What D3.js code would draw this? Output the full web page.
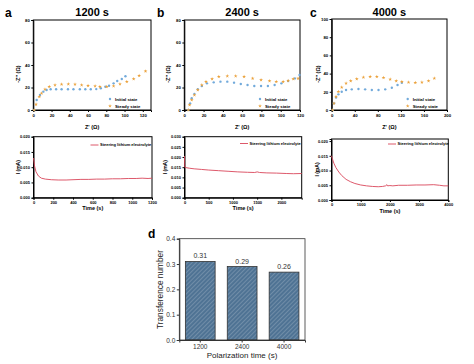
<!DOCTYPE html>
<html><head><meta charset="utf-8">
<script src="https://cdn.jsdelivr.net/npm/d3@7"></script>
<style>body{margin:0;background:#fff}svg{display:block}text{font-family:"Liberation Sans",Arial,sans-serif}</style>
</head><body><svg id="chart" width="474" height="364"></svg>
<script>
// ---------- DATA ----------
const panelTitles = ["1200 s", "2400 s", "4000 s"];
const legendNyquist = ["Initial state", "Steady state"];
const legendCurrent = "Steering lithium electrolyte";

// Nyquist: [Z', -Z'']
const nyqInitialA = [[1,0],[3.7,8.9],[7.3,13.3],[11,16.3],[14.6,17.8],[19,18.4],[25,18.4],[31,18.4],[38,18.4],[44,18.4],[51,18.4],[57,18.4],[63,18.4],[69,18.6],[74,19.3],[79,20.7],[83,21.6],[88,23.7],[92,25.8],[97,27.6],[101,30]];
const nyqSteadyA = [[1,0],[3,5],[6.6,11.9],[9,14.8],[12.8,18.4],[17.5,20.7],[23.8,22.2],[31,22.8],[38.4,23.1],[45.7,22.8],[53,22.2],[60,21.6],[67.7,21.3],[73,20.7],[80.5,20.7],[88,21.3],[95,23.1],[102.5,25.2],[110,27.6],[116,30.5],[123,34.5]];
const nyqInitialB = [[4.2,0],[6,5.9],[7.7,10.4],[10.5,14.2],[14,18.4],[18.2,21.3],[23.5,23.7],[30.5,24.6],[37.5,25.2],[44.6,25.2],[51.6,24.3],[58.6,23.1],[65.6,22.2],[72.6,21.3],[79.6,21.3],[86.7,21.3],[93.7,22.2],[100.7,23.7],[107.7,25.8],[114.7,28.1],[119.5,31.1]];
const nyqSteadyB = [[4.2,0],[5.5,4.5],[7.7,8.9],[10.5,13.3],[14,17.8],[18.2,22.2],[22.5,25.2],[28.8,27.6],[35.8,29.6],[44.6,30.2],[53.3,30.2],[62,29.6],[70.9,28.1],[79.6,26.7],[88.4,25.8],[95.4,25.2],[102.5,25.2],[107.7,26.1],[113,27.6],[118,28.1]];
const nyqInitialC = [[1.7,0],[4,7.3],[7.5,13.6],[11.6,17.2],[17.4,20.1],[24.9,22],[34.8,22.7],[46.4,23.1],[58,22.7],[69.6,22],[81.2,22],[92.8,22.7],[104.3,24.5],[114.2,27.5],[121.7,30]];
const nyqSteadyC = [[1.7,0],[4,7.3],[7.5,14.7],[11.6,20.1],[17.4,24.9],[24.9,29.3],[33,31.9],[43.5,34.1],[55,35.9],[66.7,36.6],[78.3,36.6],[89.9,35.5],[101.4,33.7],[111.9,31.9],[121.7,31.1],[133.3,30.4],[145,30],[156.5,30.4],[168,31.9],[178,34.8]];

// Current vs time: [t (s), I (mA)]
const currentA = [[0,0.0130],[10,0.0105],[25,0.0085],[50,0.0071],[80,0.0064],[120,0.0061],[180,0.0059],[250,0.0058],[330,0.0058],[400,0.0059],[480,0.0060],[560,0.0060],[640,0.0061],[720,0.0061],[800,0.0062],[880,0.0062],[960,0.0063],[1040,0.0063],[1100,0.0064],[1160,0.0063],[1200,0.0064]];
const currentB = [[0,0.0205],[6,0.0150],[30,0.0148],[100,0.0145],[200,0.0142],[350,0.0139],[500,0.0136],[700,0.0133],[900,0.0130],[1100,0.0127],[1300,0.0125],[1450,0.0124],[1500,0.0127],[1550,0.0124],[1700,0.0122],[1900,0.0121],[2100,0.0119],[2250,0.0118],[2420,0.0119]];
const currentC = [[0,0.0150],[30,0.0140],[80,0.0125],[150,0.0110],[250,0.0095],[350,0.0083],[500,0.0070],[650,0.0062],[800,0.0056],[1000,0.0051],[1200,0.0048],[1400,0.0046],[1600,0.0045],[1750,0.0046],[1850,0.0048],[1900,0.0052],[1920,0.0048],[2000,0.0049],[2100,0.0048],[2300,0.0050],[2600,0.0050],[2900,0.0051],[3200,0.0051],[3500,0.0052],[3700,0.0050],[3850,0.0048],[4000,0.0048]];

// Transference number
const barCategories = ["1200", "2400", "4000"];
const barValues = [0.31, 0.29, 0.268];
const barLabels = ["0.31", "0.29", "0.26"];
const barYTicks = [0.0, 0.1, 0.2, 0.3, 0.4];

// ---------- DRAW ----------
const svg = d3.select("#chart");
const BLUE = "#72aadb", ORANGE = "#eba23c", RED = "#d9465a";

const defs = svg.append("defs");
const pat = defs.append("pattern").attr("id","hatch").attr("patternUnits","userSpaceOnUse")
  .attr("width",3).attr("height",3).attr("patternTransform","rotate(45)");
pat.append("rect").attr("width",3).attr("height",3).attr("fill","#4f7394");
pat.append("line").attr("x1",0).attr("y1",0).attr("x2",0).attr("y2",3).attr("stroke","#98aec2").attr("stroke-width",0.9);

function frame(g, x, y){
  const [x0,x1] = x.range(), [y0,y1] = y.range();
  g.append("rect").attr("x",x0).attr("y",y1).attr("width",x1-x0).attr("height",y0-y1)
    .attr("fill","none").attr("stroke","#000").attr("stroke-width",1);
}
function axes(g, x, y, xt, yt, fmtX, fmtY, fs){
  const ax = g.append("g").attr("transform",`translate(0,${y.range()[0]})`)
    .call(d3.axisBottom(x).tickValues(xt).tickFormat(fmtX).tickSize(2).tickPadding(1.5));
  const ay = g.append("g").attr("transform",`translate(${x.range()[0]},0)`)
    .call(d3.axisLeft(y).tickValues(yt).tickFormat(fmtY).tickSize(2).tickPadding(1.5));
  [ax,ay].forEach(a=>{
    a.select(".domain").attr("stroke","#000");
    a.selectAll(".tick line").attr("stroke","#000");
    a.selectAll("text").attr("font-size",fs).attr("font-weight","bold").attr("fill","#000");
  });
}
function txt(x,y,s,opt={}){
  const t = svg.append("text").attr("x",x).attr("y",y).text(s)
    .attr("font-size",opt.fs||6).attr("font-weight",opt.fw||"bold")
    .attr("text-anchor",opt.anchor||"middle").attr("fill",opt.fill||"#000");
  if(opt.rot) t.attr("transform",`rotate(-90,${x},${y})`);
  return t;
}

// Nyquist panels
const nyq = [
  {letter:"a", lx:5, ly:17, init:nyqInitialA, steady:nyqSteadyA, xd:[0,129], xr:[33.3,151], yd:[0,80], yr:[110,20], xt:d3.range(0,121,20), yt:d3.range(0,81,20), ylx:19.5, legx:110},
  {letter:"b", lx:157, ly:17, init:nyqInitialB, steady:nyqSteadyB, xd:[0,120], xr:[184.3,300], yd:[0,80], yr:[110,20], xt:d3.range(0,121,20), yt:d3.range(0,81,20), ylx:170, legx:260},
  {letter:"c", lx:310, ly:17, init:nyqInitialC, steady:nyqSteadyC, xd:[0,200], xr:[331.7,447], yd:[0,100], yr:[110,19], xt:d3.range(0,201,40), yt:d3.range(0,101,20), ylx:320, legx:407.7}
];
const circ = d3.symbol(d3.symbolCircle, 4.5);
const star = d3.symbol(d3.symbolStar, 4.5);
nyq.forEach((p,i)=>{
  const g = svg.append("g");
  const x = d3.scaleLinear().domain(p.xd).range(p.xr);
  const y = d3.scaleLinear().domain(p.yd).range(p.yr);
  frame(g,x,y);
  axes(g,x,y,p.xt,p.yt,d3.format("d"),d3.format("d"),4.3);
  g.selectAll(".pi").data(p.init).join("path").attr("d",circ)
    .attr("transform",d=>`translate(${x(d[0])},${y(d[1])})`).attr("fill",BLUE);
  g.selectAll(".ps").data(p.steady).join("path").attr("d",star)
    .attr("transform",d=>`translate(${x(d[0])},${y(d[1])})`).attr("fill",ORANGE);
  // legend
  g.append("path").attr("d",circ).attr("transform",`translate(${p.legx},99)`).attr("fill",BLUE);
  g.append("path").attr("d",star).attr("transform",`translate(${p.legx},106)`).attr("fill",ORANGE);
  txt(p.legx+5,100.6,legendNyquist[0],{fs:4.3,anchor:"start"});
  txt(p.legx+5,107.6,legendNyquist[1],{fs:4.3,anchor:"start"});
  const cx = (p.xr[0]+p.xr[1])/2;
  txt(cx,16,panelTitles[i],{fs:11,fw:"bold"});
  txt(p.lx,p.ly,p.letter,{fs:12,fw:"bold",anchor:"start"});
  txt(cx,129,"Z' (Ω)",{fs:5.5});
  txt(p.ylx,74,"-Z'' (Ω)",{fs:5.5,rot:true});
});

// Current panels
const cur = [
  {data:currentA, xd:[0,1200], xr:[33.5,152], yd:[0,0.020], yr:[197.7,136.7], xt:d3.range(0,1201,200), yt:d3.range(0,0.0201,0.005), ylx:20, legx:90.5, legy:145, xly:210},
  {data:currentB, xd:[0,2420], xr:[184.5,301.7], yd:[0,0.030], yr:[197.7,136.7], xt:d3.range(0,2001,500), yt:d3.range(0,0.0301,0.005), ylx:167, legx:240, legy:143.5, xly:210},
  {data:currentC, xd:[0,4000], xr:[331.5,448.3], yd:[0,0.0207], yr:[200,139], xt:d3.range(0,4001,1000), yt:d3.range(0,0.0201,0.005), ylx:318.5, legx:388, legy:144, xly:213}
];
cur.forEach(p=>{
  const g = svg.append("g");
  const x = d3.scaleLinear().domain(p.xd).range(p.xr);
  const y = d3.scaleLinear().domain(p.yd).range(p.yr);
  frame(g,x,y);
  axes(g,x,y,p.xt,p.yt,d3.format("d"),d3.format(".3f"),4);
  g.append("path").datum(p.data).attr("fill","none").attr("stroke",RED).attr("stroke-width",0.9)
    .attr("d",d3.line().x(d=>x(d[0])).y(d=>y(d[1])));
  g.append("line").attr("x1",p.legx).attr("x2",p.legx+8).attr("y1",p.legy).attr("y2",p.legy).attr("stroke",RED).attr("stroke-width",0.9);
  txt(p.legx+9.5,p.legy+1.4,legendCurrent,{fs:4,anchor:"start"});
  const cx = (p.xr[0]+p.xr[1])/2;
  txt(cx,p.xly,"Time (s)",{fs:5.5});
  txt(p.ylx,(p.yr[0]+p.yr[1])/2,"I (mA)",{fs:5,rot:true});
});

// Bar chart d
{
  const g = svg.append("g");
  const x = d3.scaleBand().domain(barCategories).range([179.3,305]).paddingInner(0.29).paddingOuter(0.145);
  const y = d3.scaleLinear().domain([0,0.4]).range([340,238.7]);
  g.selectAll(".bar").data(barValues).join("rect")
    .attr("x",(d,i)=>x(barCategories[i])).attr("width",x.bandwidth())
    .attr("y",d=>y(d)).attr("height",d=>y(0)-y(d))
    .attr("fill","url(#hatch)").attr("stroke","#333").attr("stroke-width",0.8);
  g.selectAll(".lbl").data(barLabels).join("text")
    .attr("x",(d,i)=>x(barCategories[i])+x.bandwidth()/2).attr("y",(d,i)=>y(barValues[i])-3)
    .attr("text-anchor","middle").attr("font-size",7).attr("fill","#333").text(d=>d);
  g.append("rect").attr("x",179.3).attr("y",238.7).attr("width",305-179.3).attr("height",340-238.7)
    .attr("fill","none").attr("stroke","#333").attr("stroke-width",0.8);
  const ax = g.append("g").attr("transform","translate(0,340)").call(d3.axisBottom(x).tickSize(2.5).tickPadding(2));
  const ay = g.append("g").attr("transform","translate(179.3,0)")
    .call(d3.axisLeft(y).tickValues(barYTicks).tickFormat(d3.format(".1f")).tickSize(2.5).tickPadding(1.5));
  [ax,ay].forEach(a=>{
    a.select(".domain").attr("stroke","#333");
    a.selectAll(".tick line").attr("stroke","#333");
    a.selectAll("text").attr("font-size",6.5).attr("fill","#333");
  });
  txt(242,357.5,"Polarization time (s)",{fs:8,fw:"normal",fill:"#222"});
  txt(163,289.5,"Transference number",{fs:8.3,fw:"normal",fill:"#222",rot:true});
  txt(148,238,"d",{fs:12,fw:"bold",anchor:"start"});
}
</script></body></html>
